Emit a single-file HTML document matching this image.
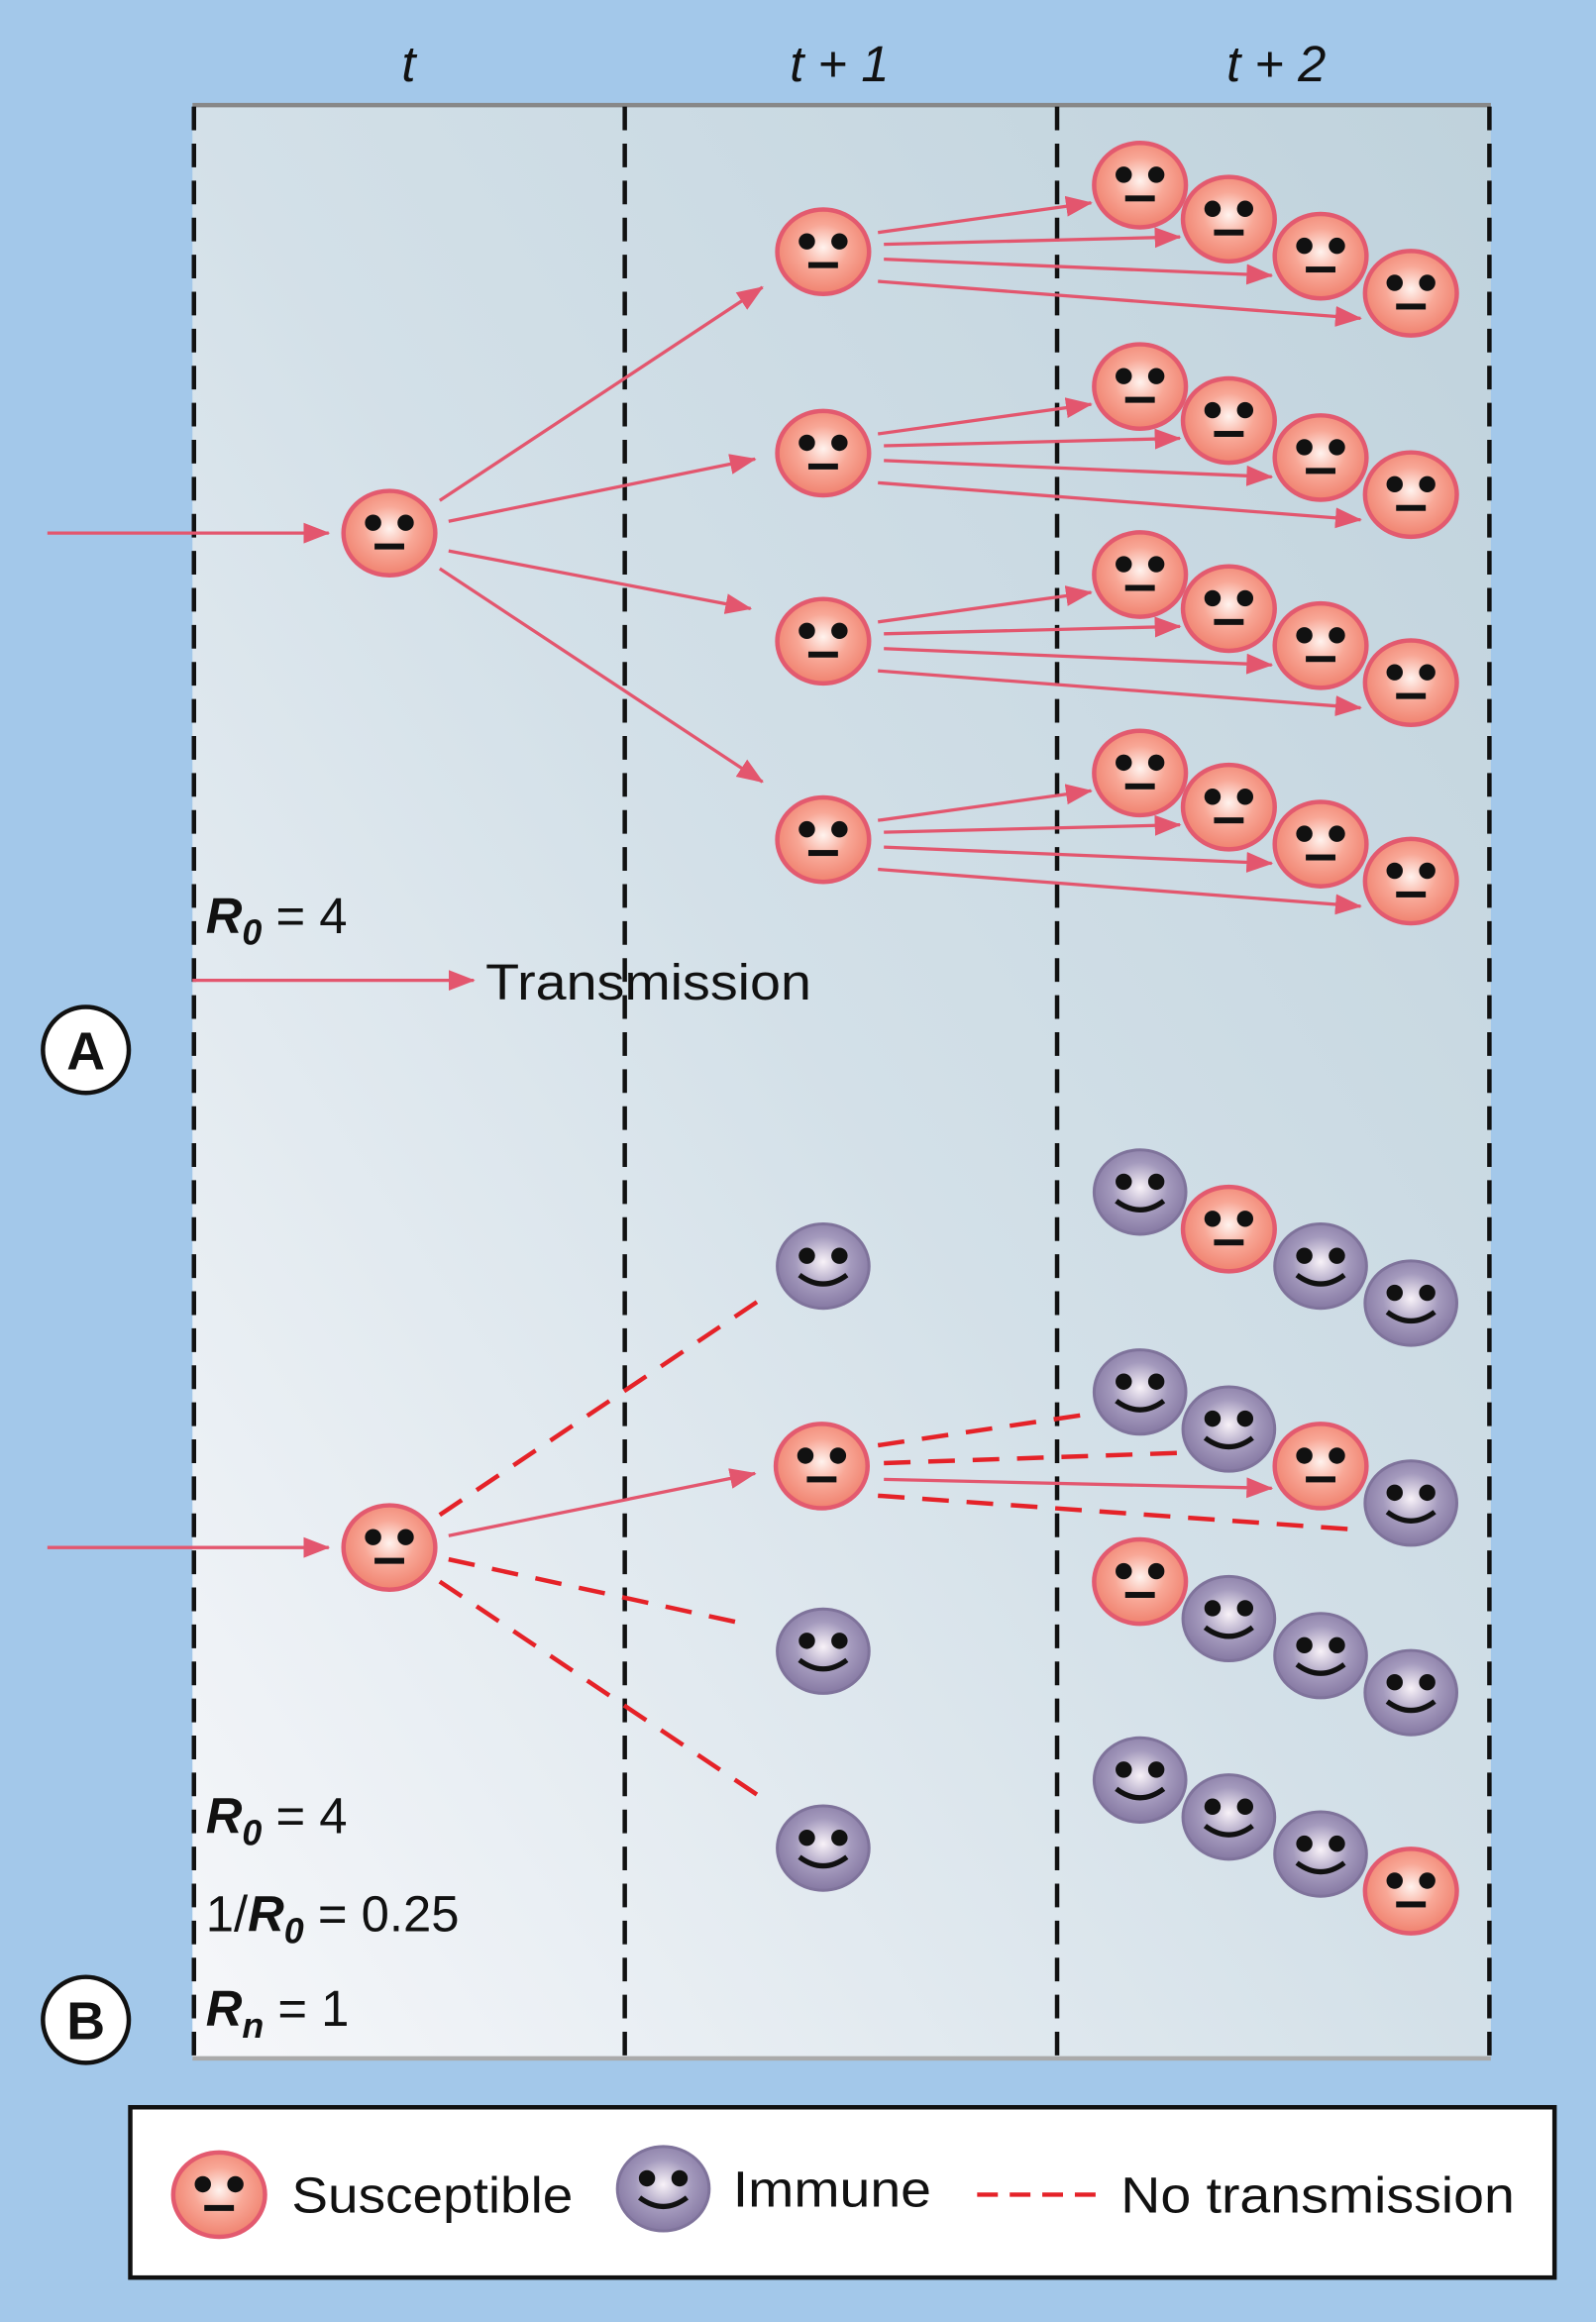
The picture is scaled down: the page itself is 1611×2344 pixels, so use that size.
<!DOCTYPE html>
<html><head><meta charset="utf-8"><style>
html,body{margin:0;padding:0;background:#a3c8ea;}
svg{display:block;}
text{font-family:"Liberation Sans",sans-serif;fill:#111;}
</style></head><body>
<svg width="1611" height="2344" viewBox="0 0 1078 1568" preserveAspectRatio="none" xmlns="http://www.w3.org/2000/svg">
<defs>
<linearGradient id="pg" x1="0" y1="1" x2="1" y2="0">
<stop offset="0" stop-color="#f6f7fa"/><stop offset="0.5" stop-color="#d3e0e8"/><stop offset="1" stop-color="#bfd2dc"/>
</linearGradient>
<radialGradient id="sg" cx="0.5" cy="0.45" r="0.55">
<stop offset="0" stop-color="#fff3ee"/><stop offset="0.5" stop-color="#f8a796"/><stop offset="1" stop-color="#f0826f"/>
</radialGradient>
<radialGradient id="ig" cx="0.5" cy="0.45" r="0.55">
<stop offset="0" stop-color="#f8f2f8"/><stop offset="0.55" stop-color="#a49abd"/><stop offset="1" stop-color="#8679a3"/>
</radialGradient>
<g id="S">
<ellipse rx="31" ry="28.5" fill="url(#sg)" stroke="#e35a6f" stroke-width="3"/>
<circle cx="-11" cy="-7" r="5.5" fill="#111"/><circle cx="11" cy="-7" r="5.5" fill="#111"/>
<rect x="-10" y="7" width="20" height="4" fill="#111"/>
</g>
<g id="I">
<ellipse rx="31" ry="28.5" fill="url(#ig)" stroke="#7f739b" stroke-width="2"/>
<circle cx="-11" cy="-7" r="5.5" fill="#111"/><circle cx="11" cy="-7" r="5.5" fill="#111"/>
<path d="M-16 6 Q0 18 16 6" stroke="#111" stroke-width="3.5" fill="none"/>
</g>
<marker id="ah" markerWidth="20" markerHeight="16" refX="17" refY="8" orient="auto" markerUnits="userSpaceOnUse">
<path d="M0 1 L18 8 L0 15 Z" fill="#e3566e"/>
</marker>
</defs>
<rect width="1078" height="1568" fill="#a3c8ea"/>
<rect x="130" y="70" width="877" height="1320" fill="url(#pg)"/>
<line x1="130" y1="71" x2="1007" y2="71" stroke="#888" stroke-width="3"/>
<line x1="130" y1="1390" x2="1007" y2="1390" stroke="#aaa" stroke-width="3"/>
<g stroke="#111" stroke-width="3" stroke-dasharray="16 9">
<line x1="131" y1="72" x2="131" y2="1390"/><line x1="422" y1="72" x2="422" y2="1390"/>
<line x1="714" y1="72" x2="714" y2="1390"/><line x1="1006" y1="72" x2="1006" y2="1390"/>
</g>
<g font-size="34" font-style="italic" text-anchor="middle">
<text x="276" y="55">t</text><text x="567" y="55">t + 1</text><text x="862" y="55">t + 2</text>
</g>

<g stroke="#e3566e" stroke-width="2.2" fill="none" marker-end="url(#ah)">
<line x1="32" y1="360" x2="222" y2="360"/>
<line x1="297" y1="338" x2="515" y2="194"/>
<line x1="303" y1="352" x2="510" y2="310"/>
<line x1="303" y1="372" x2="507" y2="411"/>
<line x1="297" y1="384" x2="515" y2="528"/>
<line x1="130" y1="662" x2="320" y2="662"/>
</g>
<g stroke="#e3566e" stroke-width="2.2" fill="none" marker-end="url(#ah)">
<g id="fan">
<line x1="593" y1="157" x2="737" y2="137"/>
<line x1="597" y1="165" x2="797" y2="160"/>
<line x1="597" y1="175" x2="859" y2="186"/>
<line x1="593" y1="190" x2="919" y2="215"/>
</g>
<use href="#fan" y="136"/><use href="#fan" y="263"/><use href="#fan" y="397"/>
</g>
<use href="#S" x="263" y="360"/>
<g id="colA">
<use href="#S" x="556" y="170"/>
<use href="#S" x="770" y="125"/><use href="#S" x="830" y="148"/><use href="#S" x="892" y="173"/><use href="#S" x="953" y="198"/>
</g>
<use href="#colA" y="136"/><use href="#colA" y="263"/><use href="#colA" y="397"/>

<text x="139" y="630" font-size="34"><tspan font-weight="bold" font-style="italic">R</tspan><tspan font-weight="bold" font-style="italic" font-size="24" dy="8">0</tspan><tspan dy="-8"> = 4</tspan></text>
<text x="328" y="675" font-size="34" textLength="220" lengthAdjust="spacingAndGlyphs">Transmission</text>
<circle cx="58" cy="709" r="29" fill="#fff" stroke="#111" stroke-width="3"/>
<text x="58" y="722" font-size="36" font-weight="bold" text-anchor="middle">A</text>

<g stroke="#e3566e" stroke-width="2.2" fill="none" marker-end="url(#ah)">
<line x1="32" y1="1045" x2="222" y2="1045"/>
<line x1="303" y1="1037" x2="510" y2="995"/>
<line x1="597" y1="999" x2="859" y2="1005"/>
</g>
<g stroke="#e52228" stroke-width="3" fill="none" stroke-dasharray="18 12">
<line x1="297" y1="1023" x2="513" y2="878"/>
<line x1="303" y1="1053" x2="505" y2="1097"/>
<line x1="297" y1="1068" x2="513" y2="1213"/>
<line x1="593" y1="976" x2="735" y2="955"/>
<line x1="597" y1="988" x2="800" y2="981"/>
<line x1="593" y1="1010" x2="917" y2="1033"/>
</g>
<use href="#S" x="263" y="1045"/>
<use href="#I" x="556" y="855"/><use href="#S" x="555" y="990"/><use href="#I" x="556" y="1115"/><use href="#I" x="556" y="1248"/>
<use href="#I" x="770" y="805"/><use href="#S" x="830" y="830"/><use href="#I" x="892" y="855"/><use href="#I" x="953" y="880"/>
<use href="#I" x="770" y="940"/><use href="#I" x="830" y="965"/><use href="#S" x="892" y="990"/><use href="#I" x="953" y="1015"/>
<use href="#S" x="770" y="1068"/><use href="#I" x="830" y="1093"/><use href="#I" x="892" y="1118"/><use href="#I" x="953" y="1143"/>
<use href="#I" x="770" y="1202"/><use href="#I" x="830" y="1227"/><use href="#I" x="892" y="1252"/><use href="#S" x="953" y="1277"/>

<text x="139" y="1238" font-size="34"><tspan font-weight="bold" font-style="italic">R</tspan><tspan font-weight="bold" font-style="italic" font-size="24" dy="8">0</tspan><tspan dy="-8"> = 4</tspan></text>
<text x="139" y="1304" font-size="34">1/<tspan font-weight="bold" font-style="italic">R</tspan><tspan font-weight="bold" font-style="italic" font-size="24" dy="8">0</tspan><tspan dy="-8"> = 0.25</tspan></text>
<text x="139" y="1368" font-size="34"><tspan font-weight="bold" font-style="italic">R</tspan><tspan font-weight="bold" font-style="italic" font-size="24" dy="8">n</tspan><tspan dy="-8"> = 1</tspan></text>
<circle cx="58" cy="1364" r="29" fill="#fff" stroke="#111" stroke-width="3"/>
<text x="58" y="1377" font-size="36" font-weight="bold" text-anchor="middle">B</text>

<rect x="88" y="1423" width="962" height="115" fill="#fff" stroke="#111" stroke-width="3"/>
<use href="#S" x="148" y="1482"/>
<text x="197" y="1494" font-size="34" textLength="190" lengthAdjust="spacingAndGlyphs">Susceptible</text>
<use href="#I" x="448" y="1478"/>
<text x="495" y="1490" font-size="34" textLength="134" lengthAdjust="spacingAndGlyphs">Immune</text>
<line x1="660" y1="1482" x2="745" y2="1482" stroke="#e52228" stroke-width="3" stroke-dasharray="14 8"/>
<text x="757" y="1494" font-size="34" textLength="266" lengthAdjust="spacingAndGlyphs">No transmission</text>
</svg>
</body></html>
